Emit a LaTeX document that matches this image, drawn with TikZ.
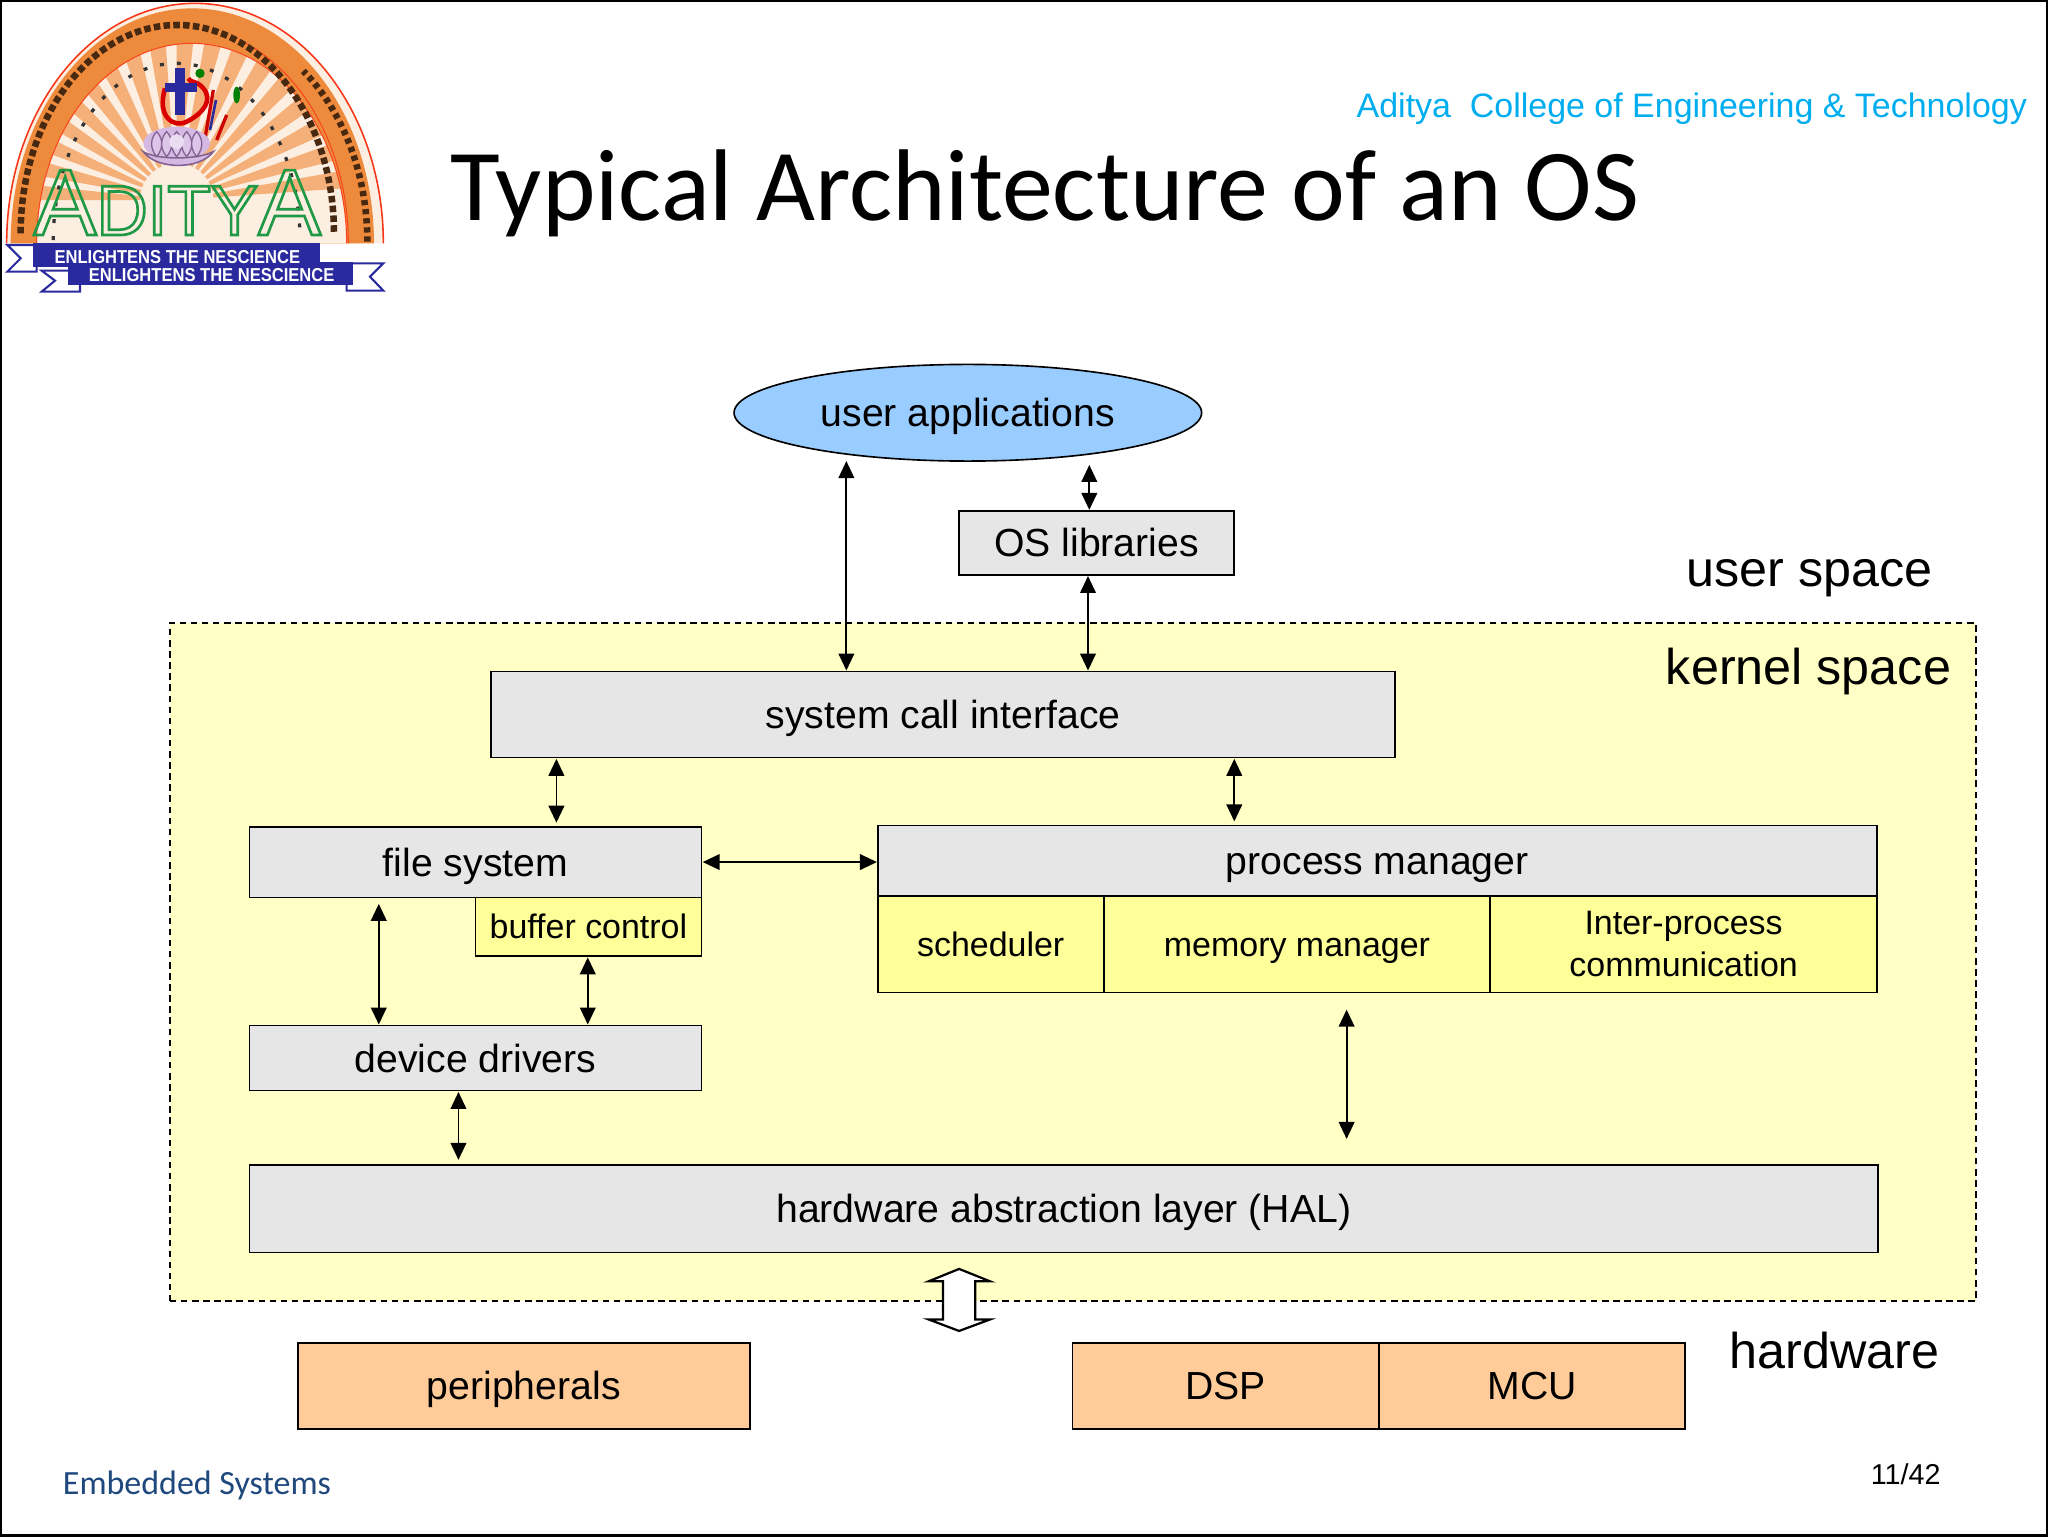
\documentclass[tikz,border=0pt]{standalone}
\usepackage{fontspec}
\usepackage{graphicx}
\setmainfont{Liberation Sans}
\newfontfamily\carl{Carlito}
\usetikzlibrary{arrows.meta,shapes.geometric}
\definecolor{kern}{HTML}{FFFFC6}
\definecolor{gbox}{HTML}{E6E6E6}
\definecolor{ybox}{HTML}{FFFF99}
\definecolor{obox}{HTML}{FFCC99}
\definecolor{ublue}{HTML}{99CCFF}
\definecolor{cyantext}{HTML}{00AEEF}
\definecolor{navytext}{HTML}{1F497D}
\definecolor{logoO}{HTML}{EE8A3C}
\definecolor{logoL}{HTML}{FDEEE2}
\definecolor{logoR}{HTML}{F4B078}
\definecolor{logoB}{HTML}{2A2A9E}
\definecolor{logoP}{HTML}{B98BD0}
\newcommand\fsz[1]{\fontsize{#1}{#1}\selectfont}
\tikzset{
 x=1pt,y=-1pt,
 cap/.code={\pgfmathsetmacro\capH{#1*0.716}\tikzset{font=\fsz{#1},text height=\capH pt,text depth=0pt}},
 box/.style={draw=black,line width=1.25pt,inner sep=0pt,text=black},
 gray box/.style={box,fill=gbox,cap=30},
 yel box/.style={box,fill=ybox,cap=26},
 hw box/.style={box,fill=obox,cap=30},
 lbl/.style={inner sep=0pt,text=black,anchor=east},
 bi/.style={draw=black,line width=1.4pt,{Triangle[length=13pt,width=12pt]}-{Triangle[length=13pt,width=12pt]}},
}
\begin{document}
\begin{tikzpicture}
\useasboundingbox (0,0) rectangle (1568,1176);
\fill[white] (0,0) rectangle (1568,1176);
% logo
\begin{scope}[x=0.2552pt,y=-0.2552pt]
 \fill[logoL] (20,730) arc[start angle=180,end angle=360,x radius=565,y radius=720] -- cycle;
 \fill[logoO] (32,730) arc[start angle=180,end angle=360,x radius=545,y radius=705] -- cycle;
 \fill[logoL] (110,730) arc[start angle=180,end angle=360,x radius=465,y radius=600] -- cycle;
 \begin{scope}
  \clip (110,730) arc[start angle=180,end angle=360,x radius=465,y radius=600] -- cycle;
  \foreach \a in {4,14,...,176} \fill[logoR] (530,600) -- +(-\a:1000) -- +(-\a-6:1000) -- cycle;
  \fill[logoL] (530,600) circle[radius=110];
 \end{scope}
 \draw[red!60!logoO,line width=1.2pt] (20,730) arc[start angle=180,end angle=360,x radius=565,y radius=720];
 \draw[red!50!logoO,line width=.8pt] (110,730) arc[start angle=180,end angle=360,x radius=465,y radius=600];
 \draw[red!50!logoO,line width=.8pt] (1045,730) arc[start angle=0,end angle=-70,x radius=500,y radius=650];
 \draw[black!70!logoO,line width=5pt,dash pattern=on 5pt off 2.5pt] (62,700) arc[start angle=180,end angle=360,x radius=470,y radius=625];
 \draw[black!70!logoO,line width=5pt,dash pattern=on 4pt off 3pt] (1102,725) arc[start angle=0,end angle=-52,x radius=500,y radius=650];
 \draw[black!80,line width=2.5pt,dash pattern=on 3pt off 10pt] (160,720) arc[start angle=180,end angle=360,x radius=370,y radius=530];
 % om and cross
 \draw[red!85!black,line width=3.5pt] (495,265) .. controls (470,350) and (520,385) .. (560,365) .. controls (610,340) and (640,300) .. (610,265) .. controls (590,240) and (570,250) .. (565,235);
 \draw[logoB,line width=7pt] (540,205) -- (540,345) (495,262) -- (590,262);
 \fill[green!50!black] (600,220) circle[radius=14];
 \draw[red!80!black,line width=2.5pt] (680,345) -- (650,420) (640,270) -- (615,415);
 \draw[logoB,line width=2pt] (648,300) -- (630,390);
 \fill[green!50!black] (710,285) ellipse[x radius=10,y radius=25];
 % lotus
 \fill[logoP!60] (530,430) ellipse[x radius=100,y radius=50];
 \draw[logoP!70!black,line width=1.2pt,fill=logoP!60] (430,455) .. controls (470,480) and (590,480) .. (640,455) .. controls (600,510) and (470,510) .. (430,455) -- cycle;
 \foreach \dx in {-60,-30,0,30,60} \draw[logoP!70!black,line width=1pt,fill=logoP!50] (530+\dx,470) .. controls (505+\dx,440) and (515+\dx,410) .. (530+\dx,395) .. controls (545+\dx,410) and (555+\dx,440) .. (530+\dx,470) -- cycle;
 \fill[white!70!logoP] (530,425) circle[radius=22];
 % ADITYA
 \node[inner sep=0pt,anchor=base] (logoword) at (532,705) {\resizebox{220pt}{!}{\special{pdf:code 1 Tr 2.4 w 0.12 0.6 0.27 RG}\fsz{85}A\fsz{64}DITY\fsz{85}A\special{pdf:code 0 Tr}}};
 % banners
 \draw[logoB,line width=1.6pt,fill=white] (22,735) -- (110,735) -- (110,815) -- (22,815) -- (62,775) -- cycle;
 \draw[logoB,line width=1.6pt,fill=white] (125,812) -- (240,812) -- (240,875) -- (125,875) -- (165,842) -- cycle;
 \draw[logoB,line width=1.6pt,fill=white] (1040,790) -- (1150,790) -- (1110,830) -- (1150,872) -- (1040,872) -- cycle;
 \fill[logoB] (205,785) rectangle (1060,855);
 \fill[logoB] (100,728) rectangle (960,800);
 \node[inner sep=0pt,text=white] (logotag1) at (532,770) {\resizebox{188pt}{10pt}{\bfseries ENLIGHTENS THE NESCIENCE}};
 \node[inner sep=0pt,text=white] (logotag2) at (635,825) {\resizebox{188pt}{10pt}{\bfseries ENLIGHTENS THE NESCIENCE}};
\end{scope}
% headings
\node[inner sep=0pt,anchor=base east,text=cyantext,font=\fsz{26}] (college) at (1552,90) {Aditya\ \ College of Engineering \& Technology};
\node[inner sep=0pt,anchor=base west,text=black,font={\carl\fsz{78}}] (title) at (345,169) {Typical Architecture of an OS};
% kernel area
\node[draw=black,line width=1.3pt,dash pattern=on 5pt off 3.5pt,fill=kern,inner sep=0pt,minimum width=1383pt,minimum height=519pt] (kernel) at (821.5,736.5) {};
% boxes
\node[ellipse,draw=black,line width=1.25pt,fill=ublue,inner sep=0pt,minimum width=358pt,minimum height=74pt,cap=30] (app) at (741,316) {user applications};
\node[gray box,minimum width=211pt,minimum height=49pt] (os) at (839.5,415.5) {OS libraries};
\node[gray box,minimum width=692pt,minimum height=66pt] (sys) at (722,547) {system call interface};
\node[gray box,minimum width=346pt,minimum height=54pt] (fs) at (364,660) {file system};
\node[yel box,minimum width=173pt,minimum height=45pt] (buf) at (450.5,709.5) {buffer control};
\node[gray box,minimum width=765pt,minimum height=54pt] (pm) at (1054.5,659) {process manager};
\node[yel box,minimum width=173pt,minimum height=74pt] (sch) at (758.5,723) {scheduler};
\node[yel box,minimum width=296pt,minimum height=74pt] (mem) at (993,723) {memory manager};
\node[box,fill=ybox,minimum width=296pt,minimum height=74pt,align=center,font=\fontsize{26}{32}\selectfont] (ipc) at (1289,723) {Inter-process\\communication};
\node[gray box,minimum width=346pt,minimum height=50pt] (dd) at (364,810) {device drivers};
\node[gray box,minimum width=1247pt,minimum height=67pt] (hal) at (814.5,925.5) {hardware abstraction layer (HAL)};
\node[hw box,minimum width=346pt,minimum height=66pt] (per) at (401,1061) {peripherals};
\node[hw box,minimum width=235pt,minimum height=66pt] (dsp) at (938.5,1061) {DSP};
\node[hw box,minimum width=234pt,minimum height=66pt] (mcu) at (1173,1061) {MCU};
% labels
\node[lbl,cap=38.5] (us) at (1480,435) {user space};
\node[lbl,cap=38.5] (ks) at (1494,510) {kernel space};
\node[lbl,cap=38.5] (hw) at (1485,1034) {hardware};
\node[lbl,cap=22] (page) at (1486,1129) {11/42};
\node[inner sep=0pt,anchor=base west,text=navytext,font={\carl\fsz{26}}] (foot) at (48,1144) {Embedded Systems};
% free connector ends
\coordinate (a1) at (648,353);
\coordinate (a2) at (834,356);
\coordinate (a3) at (833,441);
\coordinate (a4) at (426,581);
\coordinate (a5) at (945,581);
\coordinate (a6) at (290,692);
\coordinate (a7) at (450,733);
\coordinate (a8) at (351,836);
\coordinate (a9) at (1031,773);
\coordinate (a10) at (1031,872);
\coordinate (a11) at (538,660);
\coordinate (a12) at (351,888);
\draw[bi] (a1) -- (a1 |- sys.north);
\draw[bi] (a2) -- (a2 |- os.north);
\draw[bi] (a3) -- (a3 |- sys.north);
\draw[bi,shorten >=2.5pt] (a4) -- (a4 |- fs.north);
\draw[bi,shorten >=2.5pt] (a5) -- (a5 |- pm.north);
\draw[bi] (a11) -- (a11 -| pm.west);
\draw[bi] (a6) -- (a6 |- dd.north);
\draw[bi] (a7) -- (a7 |- dd.north);
\draw[bi] (a8) -- (a12);
\draw[bi] (a9) -- (a10);
% hollow double arrow
\draw[black,line width=1.7pt,fill=white,miter limit=10] (734.3,971.5) -- (711,981) -- (722,981) -- (722,1010.2) -- (711,1010.2) -- (734.3,1019) -- (758,1010.2) -- (746.6,1010.2) -- (746.6,981) -- (758,981) -- cycle;
% frame
\draw[black,line width=3pt] (0,0) rectangle (1568,1176);
\end{tikzpicture}
\end{document}
